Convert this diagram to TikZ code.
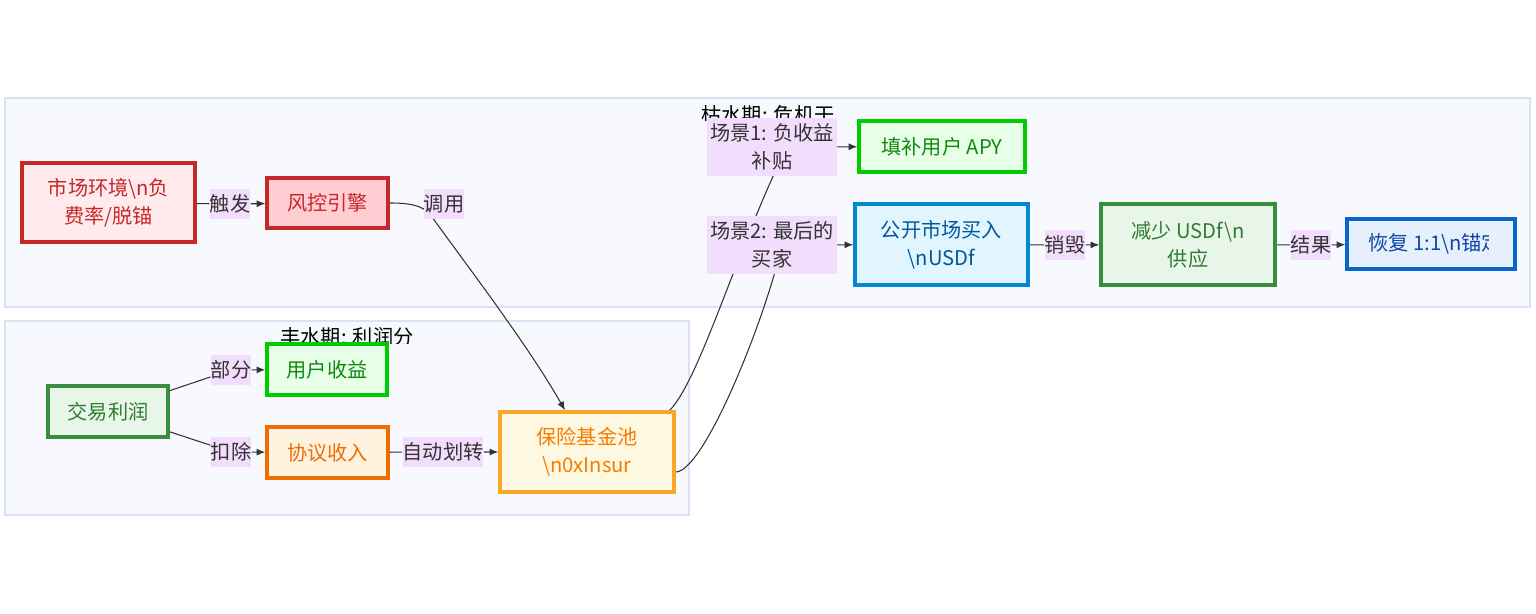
\documentclass[tikz,border=0pt]{standalone}
\usepackage{fontspec}
\setmainfont{Noto Sans CJK SC}
\usetikzlibrary{arrows.meta}

\pgfdeclarelayer{fondo}
\pgfdeclarelayer{lineas}
\pgfsetlayers{fondo,lineas,main}

\definecolor{grpfill}{HTML}{F8F9FE}
\definecolor{grpline}{HTML}{D9E2F5}
\definecolor{lblfill}{HTML}{F3DDFC}
\definecolor{lbltext}{HTML}{333333}
\definecolor{linecol}{HTML}{333333}
\definecolor{rojo}{HTML}{C62828}
\definecolor{rojofondo}{HTML}{FFEBEE}
\definecolor{rojofuerte}{HTML}{FFCDD2}
\definecolor{verde}{HTML}{00CC00}
\definecolor{verdefondo}{HTML}{E6FFE6}
\definecolor{verdetexto}{HTML}{118811}
\definecolor{verdeosc}{HTML}{388E3C}
\definecolor{verdeoscfondo}{HTML}{E8F5E9}
\definecolor{verdeosctexto}{HTML}{2E7D32}
\definecolor{azul}{HTML}{0288D1}
\definecolor{azulfondo}{HTML}{E1F5FE}
\definecolor{azultexto}{HTML}{01579B}
\definecolor{pegline}{HTML}{0A66CC}
\definecolor{pegfondo}{HTML}{E6F0FD}
\definecolor{pegtexto}{HTML}{0D47A1}
\definecolor{naranja}{HTML}{EF6C00}
\definecolor{naranjafondo}{HTML}{FFF3E0}
\definecolor{oro}{HTML}{F9A825}
\definecolor{orofondo}{HTML}{FFF8E1}
\definecolor{orotexto}{HTML}{F57C00}

\begin{document}
\begin{tikzpicture}[x=0.02cm,y=-0.02cm, % 1 unidad = 1 pixel
    font=\fontsize{11.5}{16}\selectfont,
    caja/.style={draw,line width=1.9pt,inner sep=0pt,align=center},
    etiqueta/.style={fill=lblfill,text=lbltext,inner xsep=0pt,inner ysep=0pt,minimum height=0.6cm,align=center},
    flecha/.style={draw=linecol,line width=0.6pt,-{Latex[length=5pt,width=4pt]}},
    grupo/.style={fill=grpfill,draw=grpline,line width=0.6pt}]

    \useasboundingbox (0,0) rectangle (1536,614);

    % Grupos de fondo con sus titulos recortados
    \begin{pgfonlayer}{fondo}
        \draw[grupo] (5,98) rectangle (1530,307);
        \draw[grupo] (5,321) rectangle (689,515);
        \begin{scope}
            \clip (5,98) rectangle (1530,121);
            \node[anchor=base,inner sep=0pt] (tit1) at (768,123) {枯水期: 危机干};
        \end{scope}
        \begin{scope}
            \clip (5,321) rectangle (689,343.5);
            \node[anchor=base,inner sep=0pt] (tit2) at (347,345) {丰水期: 利润分};
        \end{scope}
    \end{pgfonlayer}

    % Fila de arriba: crisis
    \node[caja,fill=rojofondo,draw=rojo,text=rojo,minimum width=3.46cm,minimum height=1.58cm] (mkt) at (108.5,202.5) {市场环境\textbackslash n负\\费率/脱锚};
    \node[caja,fill=rojofuerte,draw=rojo,text=rojo,minimum width=2.42cm,minimum height=1cm] (risk) at (327.5,203) {风控引擎};
    \node[caja,fill=verdefondo,draw=verde,text=verdetexto,minimum width=3.32cm,minimum height=1.02cm] (apy) at (942,146.5) {填补用户 APY};
    \node[caja,fill=azulfondo,draw=azul,text=azultexto,minimum width=3.46cm,minimum height=1.62cm] (buy) at (941.5,244.5) {公开市场买入\\\textbackslash nUSDf};
    \node[caja,fill=verdeoscfondo,draw=verdeosc,text=verdeosctexto,minimum width=3.48cm,minimum height=1.62cm] (burn) at (1188,244.5) {减少 USDf\textbackslash n\\供应};
    \node[caja,fill=pegfondo,draw=pegline,minimum width=3.36cm,minimum height=1cm] (peg) at (1431,244) {};
    \begin{scope}
        \clip (1347,219) rectangle (1488,269); % el texto sale cortado
        \node[anchor=west,inner sep=0pt,text=pegtexto] (pegtxt) at (1368,244) {恢复 1:1\textbackslash n锚定};
    \end{scope}

    % Fila de abajo: beneficios
    \node[caja,fill=verdeoscfondo,draw=verdeosc,text=verdeosctexto,minimum width=2.4cm,minimum height=1.02cm] (profit) at (108,411.5) {交易利润};
    \node[caja,fill=verdefondo,draw=verde,text=verdetexto,minimum width=2.4cm,minimum height=1.02cm] (user) at (327,369.5) {用户收益};
    \node[caja,fill=naranjafondo,draw=naranja,text=naranja,minimum width=2.42cm,minimum height=1.02cm] (proto) at (327.5,452.5) {协议收入};
    \node[caja,fill=orofondo,draw=oro,text=orotexto,minimum width=3.48cm,minimum height=1.6cm] (pool) at (587,452) {保险基金池\\\textbackslash n0xInsur};

    % Etiquetas de las flechas
    \node[etiqueta] (l1) at (230,204) {触发};
    \node[etiqueta] (l2) at (444,204) {调用};
    \node[etiqueta,minimum width=2.62cm,minimum height=1.16cm] (l3) at (772,147) {场景1: 负收益\\补贴};
    \node[etiqueta,minimum width=2.62cm,minimum height=1.16cm] (l4) at (772,245) {场景2: 最后的\\买家};
    \node[etiqueta] (l5) at (1065,245) {销毁};
    \node[etiqueta] (l6) at (1311,245) {结果};
    \node[etiqueta] (l7) at (231,370) {部分};
    \node[etiqueta] (l8) at (231,452) {扣除};
    \node[etiqueta] (l9) at (443,452) {自动划转};

    % Conexiones (debajo de las etiquetas)
    \begin{pgfonlayer}{lineas}
        \draw[flecha] (mkt) -- (l1) -- (risk);
        \draw[flecha] (risk.east) .. controls (412,203) and (422,206) .. (430,214) .. controls (455,250) and (525,340) .. ([xshift=-0.44cm]pool.north);
        \draw[flecha] ([xshift=-0.12cm]pool.north east) .. controls (700,380) and (740,240) .. ([xshift=0.3cm]l3.center) -- (apy);
        \draw[flecha] ([yshift=-0.4cm]pool.east) .. controls (704,472) and (765,320) .. ([xshift=0.2cm]l4.center) -- (buy);
        \draw[flecha] (buy) -- (l5) -- (burn);
        \draw[flecha] (burn) -- (l6) -- (peg);
        \draw[flecha] (profit) -- (l7) -- (user);
        \draw[flecha] (profit) -- (l8) -- (proto);
        \draw[flecha] (proto) -- (l9) -- (pool);
    \end{pgfonlayer}

\end{tikzpicture}
\end{document}
